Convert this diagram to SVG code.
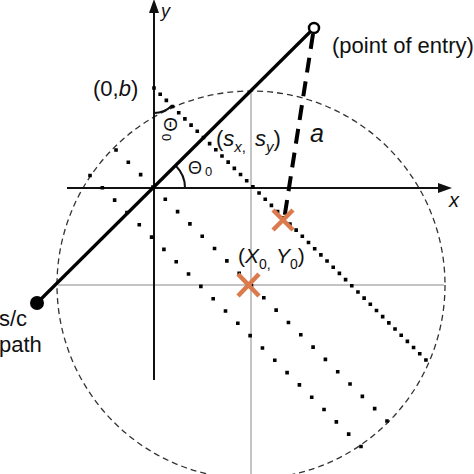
<svg xmlns="http://www.w3.org/2000/svg" width="474" height="474" viewBox="0 0 474 474">
<style>
text{font-family:"Liberation Sans",Arial,sans-serif;fill:#111;}
.it{font-style:italic;}
.axis{stroke:#111;stroke-width:2;fill:none;}
.gray{stroke:#b0b0b0;stroke-width:1.5;fill:none;}
.dots{stroke:#000;stroke-width:3.6;stroke-linecap:square;fill:none;}
.cross{stroke:#DB7A4C;stroke-width:4.5;fill:none;}
</style>
<rect width="474" height="474" fill="#fff"/>
<g id="guides">
<line class="gray" x1="251" y1="91" x2="251" y2="474"/>
<line class="gray" x1="58" y1="285" x2="444" y2="285"/>
<circle cx="251" cy="285" r="194" fill="none" stroke="#333" stroke-width="1.3" stroke-dasharray="6 4"/>
</g>
<g id="axes">
<line class="axis" x1="154" y1="380" x2="154" y2="10"/>
<polygon points="154,-1 149,13 159,13" fill="#111"/>
<line class="axis" x1="67" y1="188" x2="440" y2="188"/>
<polygon points="452,188 438,183 438,193" fill="#111"/>
<path class="axis" d="M185,188 A31,31 0 0,0 176,166" stroke-width="1.3"/>
<path class="axis" d="M154,113 A25,25 0 0,0 171.7,105.7" stroke-width="1.3"/>
</g>
<g id="connectors">
<line class="dots" x1="154" y1="88" x2="432" y2="366" stroke-dasharray="0 8.74"/>
<line class="dots" x1="116" y1="150" x2="387" y2="421" stroke-dasharray="0 17.42"/>
<line class="dots" x1="90" y1="175.5" x2="361" y2="446.5" stroke-dasharray="0 17.42"/>
<line x1="37" y1="303" x2="311" y2="31" stroke="#000" stroke-width="3.2"/>
<line x1="313" y1="34" x2="284" y2="220" stroke="#000" stroke-width="4" stroke-dasharray="15 9"/>
</g>
<g id="sc-path">
<circle cx="37" cy="303" r="7" fill="#000"/>
<text x="-1" y="326" font-size="22">s/c</text>
<text x="-1" y="352" font-size="22">path</text>
</g>
<g id="point-of-entry">
<circle cx="314" cy="28" r="5" fill="#fff" stroke="#000" stroke-width="2.5"/>
<text x="332" y="53" font-size="22">(point of entry)</text>
</g>
<g id="crossings">
<path class="cross" d="M238,274 L259,296 M259,274 L238,296"/>
<path class="cross" d="M273,210 L293,230 M293,210 L273,230"/>
</g>
<g id="labels">
<text x="161" y="17" font-size="18" class="it">y</text>
<text x="449" y="207" font-size="20" class="it">x</text>
<text x="93" y="96" font-size="22">(0,<tspan class="it">b</tspan>)</text>
<text x="216" y="146" font-size="22">(<tspan class="it">s</tspan><tspan class="it" font-size="15" dy="6">x</tspan><tspan font-size="15">,</tspan><tspan x="255" dy="-6" class="it">s</tspan><tspan class="it" font-size="15" dy="6">y</tspan><tspan dy="-6">)</tspan></text>
<text x="310" y="142" font-size="25" class="it">a</text>
<text x="238" y="263" font-size="21">(<tspan class="it">X</tspan><tspan font-size="14" dy="6">0</tspan><tspan font-size="14">,</tspan><tspan x="276" dy="-6" class="it">Y</tspan><tspan font-size="14" dy="6">0</tspan><tspan dy="-6">)</tspan></text>
<text x="188" y="174" font-size="18">Θ<tspan font-size="13" dx="3" dy="2">0</tspan></text>
<text transform="translate(164,117) rotate(90)" font-size="19">Θ<tspan font-size="13" dx="2" dy="2">0</tspan></text>
</g>
</svg>
